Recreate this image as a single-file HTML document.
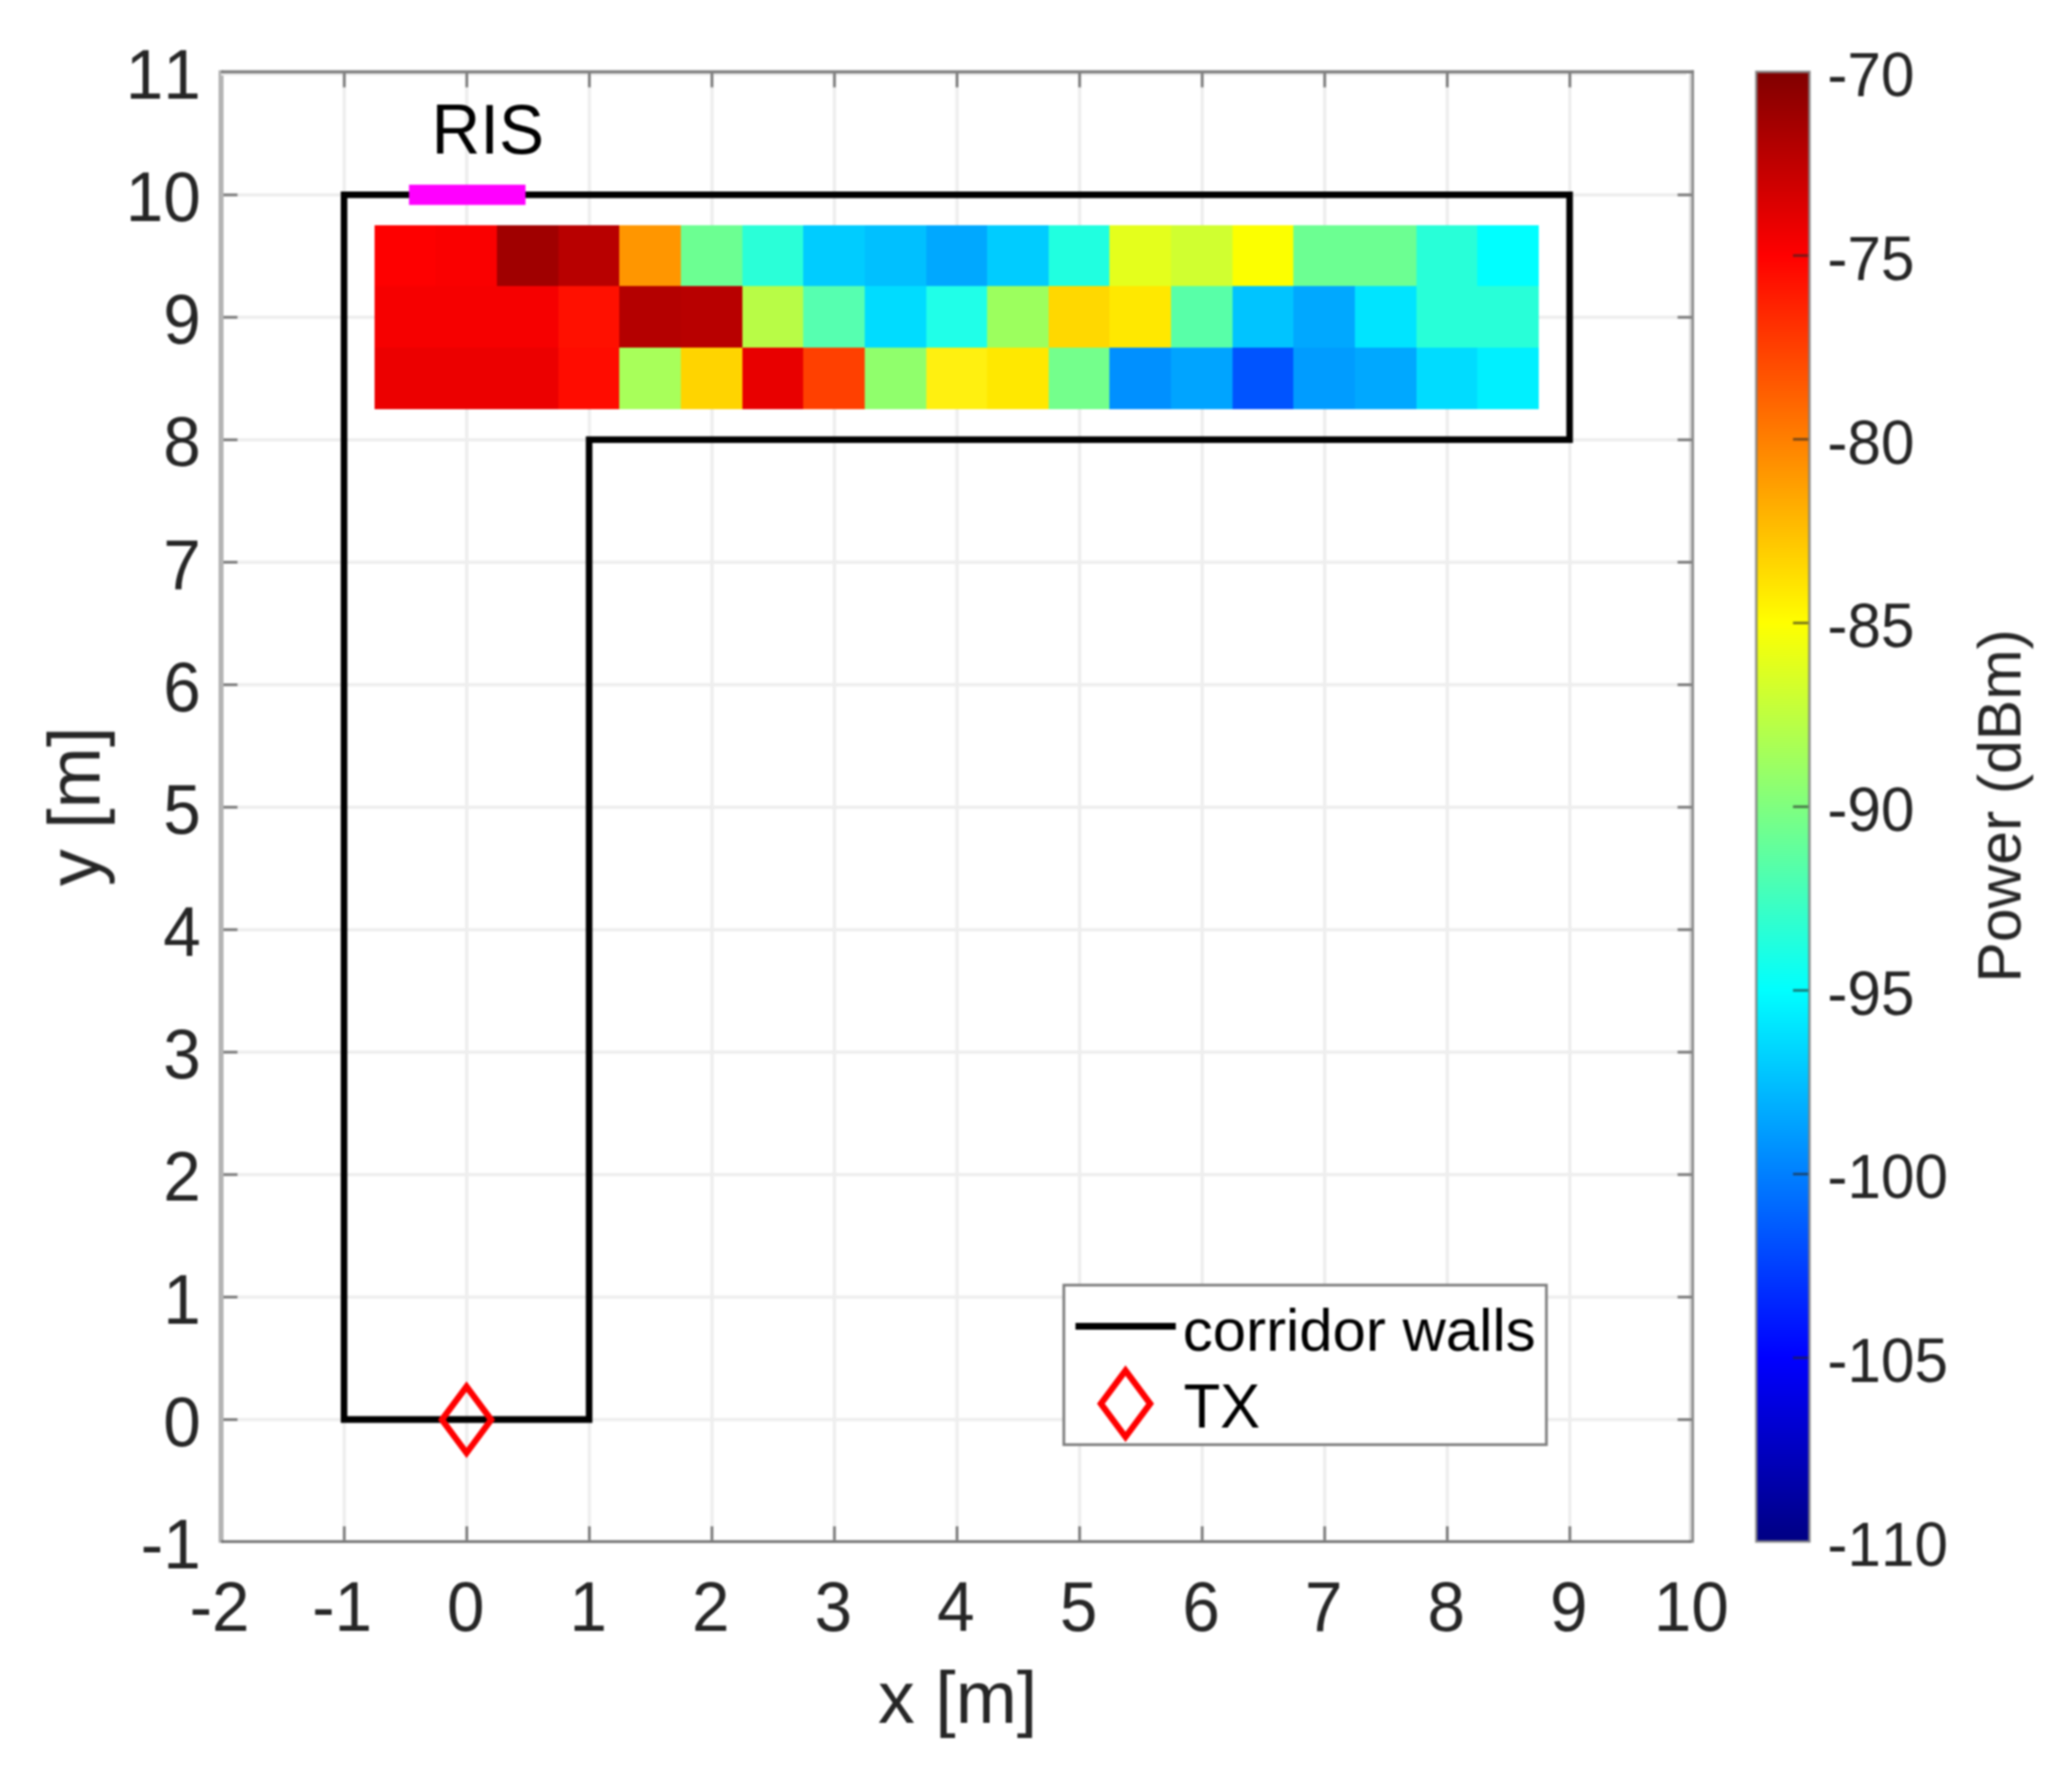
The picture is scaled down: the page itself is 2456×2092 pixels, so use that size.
<!DOCTYPE html>
<html lang="en"><head><meta charset="utf-8"><title>RIS corridor power map</title>
<style>html,body{margin:0;padding:0;background:#fff}body{width:2456px;height:2092px;overflow:hidden}svg{display:block}text{font-family:"Liberation Sans",sans-serif;font-kerning:none}</style>
</head><body>
<svg width="2456" height="2092" viewBox="0 0 2456 2092">
<defs><linearGradient id="jet" x1="0" y1="1" x2="0" y2="0">
<stop offset="0" stop-color="#000083"/>
<stop offset="0.125" stop-color="#0000ff"/>
<stop offset="0.375" stop-color="#00ffff"/>
<stop offset="0.625" stop-color="#ffff00"/>
<stop offset="0.875" stop-color="#ff0000"/>
<stop offset="1" stop-color="#800000"/>
</linearGradient></defs>
<rect width="2456" height="2092" fill="#fff"/>
<g style="filter:blur(0.8px)">
<g fill="#eeeeee">
<rect x="406.1" y="85.2" width="4" height="1741.9"/>
<rect x="551.3" y="85.2" width="4" height="1741.9"/>
<rect x="696.6" y="85.2" width="4" height="1741.9"/>
<rect x="841.9" y="85.2" width="4" height="1741.9"/>
<rect x="987.1" y="85.2" width="4" height="1741.9"/>
<rect x="1132.4" y="85.2" width="4" height="1741.9"/>
<rect x="1277.7" y="85.2" width="4" height="1741.9"/>
<rect x="1423.0" y="85.2" width="4" height="1741.9"/>
<rect x="1568.2" y="85.2" width="4" height="1741.9"/>
<rect x="1713.5" y="85.2" width="4" height="1741.9"/>
<rect x="1858.8" y="85.2" width="4" height="1741.9"/>
<rect x="262.2" y="1680.6" width="1743.2" height="4"/>
<rect x="262.2" y="1535.4" width="1743.2" height="4"/>
<rect x="262.2" y="1390.2" width="1743.2" height="4"/>
<rect x="262.2" y="1245.1" width="1743.2" height="4"/>
<rect x="262.2" y="1099.9" width="1743.2" height="4"/>
<rect x="262.2" y="954.8" width="1743.2" height="4"/>
<rect x="262.2" y="809.6" width="1743.2" height="4"/>
<rect x="262.2" y="664.4" width="1743.2" height="4"/>
<rect x="262.2" y="519.3" width="1743.2" height="4"/>
<rect x="262.2" y="374.1" width="1743.2" height="4"/>
<rect x="262.2" y="229.0" width="1743.2" height="4"/>
</g>
<g shape-rendering="crispEdges">
<rect x="443.79" y="266.65" width="73.14" height="73.08" fill="#fe0000"/>
<rect x="516.42" y="266.65" width="73.14" height="73.08" fill="#fa0000"/>
<rect x="589.06" y="266.65" width="73.14" height="73.08" fill="#a00000"/>
<rect x="661.69" y="266.65" width="73.14" height="73.08" fill="#b80000"/>
<rect x="734.33" y="266.65" width="73.14" height="73.08" fill="#ff9600"/>
<rect x="806.96" y="266.65" width="73.14" height="73.08" fill="#6cff92"/>
<rect x="879.60" y="266.65" width="73.14" height="73.08" fill="#2affd8"/>
<rect x="952.23" y="266.65" width="73.14" height="73.08" fill="#00ccff"/>
<rect x="1024.87" y="266.65" width="73.14" height="73.08" fill="#00c0ff"/>
<rect x="1097.50" y="266.65" width="73.14" height="73.08" fill="#00a8ff"/>
<rect x="1170.14" y="266.65" width="73.14" height="73.08" fill="#00ccff"/>
<rect x="1242.77" y="266.65" width="73.14" height="73.08" fill="#20ffe0"/>
<rect x="1315.41" y="266.65" width="73.14" height="73.08" fill="#e4ff1c"/>
<rect x="1388.04" y="266.65" width="73.14" height="73.08" fill="#d0ff30"/>
<rect x="1460.68" y="266.65" width="73.14" height="73.08" fill="#fcff00"/>
<rect x="1533.31" y="266.65" width="73.14" height="73.08" fill="#6cff92"/>
<rect x="1605.95" y="266.65" width="73.14" height="73.08" fill="#6cff92"/>
<rect x="1678.58" y="266.65" width="73.14" height="73.08" fill="#28ffd8"/>
<rect x="1751.22" y="266.65" width="73.14" height="73.08" fill="#00ffff"/>
<rect x="443.79" y="339.23" width="73.14" height="73.08" fill="#f60000"/>
<rect x="516.42" y="339.23" width="73.14" height="73.08" fill="#f60000"/>
<rect x="589.06" y="339.23" width="73.14" height="73.08" fill="#f60000"/>
<rect x="661.69" y="339.23" width="73.14" height="73.08" fill="#ff1000"/>
<rect x="734.33" y="339.23" width="73.14" height="73.08" fill="#b40000"/>
<rect x="806.96" y="339.23" width="73.14" height="73.08" fill="#b80000"/>
<rect x="879.60" y="339.23" width="73.14" height="73.08" fill="#b8fc46"/>
<rect x="952.23" y="339.23" width="73.14" height="73.08" fill="#56ffb0"/>
<rect x="1024.87" y="339.23" width="73.14" height="73.08" fill="#00dcff"/>
<rect x="1097.50" y="339.23" width="73.14" height="73.08" fill="#20ffe8"/>
<rect x="1170.14" y="339.23" width="73.14" height="73.08" fill="#9cff5e"/>
<rect x="1242.77" y="339.23" width="73.14" height="73.08" fill="#ffd800"/>
<rect x="1315.41" y="339.23" width="73.14" height="73.08" fill="#ffe800"/>
<rect x="1388.04" y="339.23" width="73.14" height="73.08" fill="#58ffa8"/>
<rect x="1460.68" y="339.23" width="73.14" height="73.08" fill="#00c4ff"/>
<rect x="1533.31" y="339.23" width="73.14" height="73.08" fill="#00a8ff"/>
<rect x="1605.95" y="339.23" width="73.14" height="73.08" fill="#00e4ff"/>
<rect x="1678.58" y="339.23" width="73.14" height="73.08" fill="#28ffd8"/>
<rect x="1751.22" y="339.23" width="73.14" height="73.08" fill="#28ffd8"/>
<rect x="443.79" y="411.81" width="73.14" height="73.08" fill="#ec0000"/>
<rect x="516.42" y="411.81" width="73.14" height="73.08" fill="#ec0000"/>
<rect x="589.06" y="411.81" width="73.14" height="73.08" fill="#ec0000"/>
<rect x="661.69" y="411.81" width="73.14" height="73.08" fill="#ff0c00"/>
<rect x="734.33" y="411.81" width="73.14" height="73.08" fill="#a8ff5a"/>
<rect x="806.96" y="411.81" width="73.14" height="73.08" fill="#ffd400"/>
<rect x="879.60" y="411.81" width="73.14" height="73.08" fill="#e80000"/>
<rect x="952.23" y="411.81" width="73.14" height="73.08" fill="#ff4000"/>
<rect x="1024.87" y="411.81" width="73.14" height="73.08" fill="#90ff6c"/>
<rect x="1097.50" y="411.81" width="73.14" height="73.08" fill="#fff010"/>
<rect x="1170.14" y="411.81" width="73.14" height="73.08" fill="#ffe800"/>
<rect x="1242.77" y="411.81" width="73.14" height="73.08" fill="#74ff8c"/>
<rect x="1315.41" y="411.81" width="73.14" height="73.08" fill="#0090ff"/>
<rect x="1388.04" y="411.81" width="73.14" height="73.08" fill="#00a4ff"/>
<rect x="1460.68" y="411.81" width="73.14" height="73.08" fill="#0054ff"/>
<rect x="1533.31" y="411.81" width="73.14" height="73.08" fill="#009cff"/>
<rect x="1605.95" y="411.81" width="73.14" height="73.08" fill="#00a8ff"/>
<rect x="1678.58" y="411.81" width="73.14" height="73.08" fill="#00dcff"/>
<rect x="1751.22" y="411.81" width="73.14" height="73.08" fill="#00f0ff"/>
</g>
<g>
<rect x="259" y="83.3" width="6" height="1745.3" fill="#b4b4b4"/>
<rect x="2002" y="83.3" width="3" height="1745.3" fill="#d8d8d8"/>
<rect x="2005" y="83.3" width="3" height="1745.3" fill="#8c8c8c"/>
<rect x="262" y="83.3" width="1746.0" height="3.7" fill="#808080"/>
<rect x="262" y="87.0" width="1737.0" height="2.5" fill="#ebebeb"/>
<rect x="262" y="1825.6" width="1743.0" height="3.2" fill="#707070"/>
</g>
<g fill="#7a7a7a">
<rect x="406.5" y="87.0" width="3.2" height="16.5"/>
<rect x="406.5" y="1809.1" width="3.2" height="16.5"/>
<rect x="551.7" y="87.0" width="3.2" height="16.5"/>
<rect x="551.7" y="1809.1" width="3.2" height="16.5"/>
<rect x="697.0" y="87.0" width="3.2" height="16.5"/>
<rect x="697.0" y="1809.1" width="3.2" height="16.5"/>
<rect x="842.3" y="87.0" width="3.2" height="16.5"/>
<rect x="842.3" y="1809.1" width="3.2" height="16.5"/>
<rect x="987.5" y="87.0" width="3.2" height="16.5"/>
<rect x="987.5" y="1809.1" width="3.2" height="16.5"/>
<rect x="1132.8" y="87.0" width="3.2" height="16.5"/>
<rect x="1132.8" y="1809.1" width="3.2" height="16.5"/>
<rect x="1278.1" y="87.0" width="3.2" height="16.5"/>
<rect x="1278.1" y="1809.1" width="3.2" height="16.5"/>
<rect x="1423.4" y="87.0" width="3.2" height="16.5"/>
<rect x="1423.4" y="1809.1" width="3.2" height="16.5"/>
<rect x="1568.6" y="87.0" width="3.2" height="16.5"/>
<rect x="1568.6" y="1809.1" width="3.2" height="16.5"/>
<rect x="1713.9" y="87.0" width="3.2" height="16.5"/>
<rect x="1713.9" y="1809.1" width="3.2" height="16.5"/>
<rect x="1859.2" y="87.0" width="3.2" height="16.5"/>
<rect x="1859.2" y="1809.1" width="3.2" height="16.5"/>
<rect x="265.0" y="1681.0" width="16.5" height="3.2"/>
<rect x="1988.5" y="1681.0" width="16.5" height="3.2"/>
<rect x="265.0" y="1535.8" width="16.5" height="3.2"/>
<rect x="1988.5" y="1535.8" width="16.5" height="3.2"/>
<rect x="265.0" y="1390.6" width="16.5" height="3.2"/>
<rect x="1988.5" y="1390.6" width="16.5" height="3.2"/>
<rect x="265.0" y="1245.5" width="16.5" height="3.2"/>
<rect x="1988.5" y="1245.5" width="16.5" height="3.2"/>
<rect x="265.0" y="1100.3" width="16.5" height="3.2"/>
<rect x="1988.5" y="1100.3" width="16.5" height="3.2"/>
<rect x="265.0" y="955.2" width="16.5" height="3.2"/>
<rect x="1988.5" y="955.2" width="16.5" height="3.2"/>
<rect x="265.0" y="810.0" width="16.5" height="3.2"/>
<rect x="1988.5" y="810.0" width="16.5" height="3.2"/>
<rect x="265.0" y="664.8" width="16.5" height="3.2"/>
<rect x="1988.5" y="664.8" width="16.5" height="3.2"/>
<rect x="265.0" y="519.7" width="16.5" height="3.2"/>
<rect x="1988.5" y="519.7" width="16.5" height="3.2"/>
<rect x="265.0" y="374.5" width="16.5" height="3.2"/>
<rect x="1988.5" y="374.5" width="16.5" height="3.2"/>
<rect x="265.0" y="229.4" width="16.5" height="3.2"/>
<rect x="1988.5" y="229.4" width="16.5" height="3.2"/>
</g>
<polygon points="407.8,1682.5 698.3,1682.5 698.3,521.2 1860.5,521.2 1860.5,230.9 407.8,230.9" fill="none" stroke="#000" stroke-width="7.8" stroke-linejoin="miter"/>
<rect x="484.8" y="218.9" width="138.1" height="24" fill="#ff00ff"/>
<text transform="translate(511.5,181.6) scale(1,1.04)" font-size="80" fill="#000">RIS</text>
<polygon points="553.0,1643.5 582.2,1682.8 553.0,1722.1 523.8,1682.8" fill="none" stroke="#ff0000" stroke-width="7.4" stroke-linejoin="miter" stroke-miterlimit="10"/>
<g font-size="80" fill="#262626">
<g text-anchor="middle">
<text transform="translate(260.2,1933.3) scale(1,1.04)">-2</text>
<text transform="translate(405.5,1933.3) scale(1,1.04)">-1</text>
<text transform="translate(552.0,1933.3) scale(1,1.04)">0</text>
<text transform="translate(697.3,1933.3) scale(1,1.04)">1</text>
<text transform="translate(842.6,1933.3) scale(1,1.04)">2</text>
<text transform="translate(987.8,1933.3) scale(1,1.04)">3</text>
<text transform="translate(1133.1,1933.3) scale(1,1.04)">4</text>
<text transform="translate(1278.4,1933.3) scale(1,1.04)">5</text>
<text transform="translate(1423.7,1933.3) scale(1,1.04)">6</text>
<text transform="translate(1568.9,1933.3) scale(1,1.04)">7</text>
<text transform="translate(1714.2,1933.3) scale(1,1.04)">8</text>
<text transform="translate(1859.5,1933.3) scale(1,1.04)">9</text>
<text transform="translate(2004.7,1933.3) scale(1,1.04)">10</text>
</g><g text-anchor="end">
<text transform="translate(238,1858.8) scale(1,1.04)">-1</text>
<text transform="translate(238,1713.7) scale(1,1.04)">0</text>
<text transform="translate(238,1568.5) scale(1,1.04)">1</text>
<text transform="translate(238,1423.3) scale(1,1.04)">2</text>
<text transform="translate(238,1278.2) scale(1,1.04)">3</text>
<text transform="translate(238,1133.0) scale(1,1.04)">4</text>
<text transform="translate(238,987.9) scale(1,1.04)">5</text>
<text transform="translate(238,842.7) scale(1,1.04)">6</text>
<text transform="translate(238,697.5) scale(1,1.04)">7</text>
<text transform="translate(238,552.4) scale(1,1.04)">8</text>
<text transform="translate(238,407.2) scale(1,1.04)">9</text>
<text transform="translate(238,262.1) scale(1,1.04)">10</text>
<text transform="translate(238,116.9) scale(1,1.04)">11</text>
</g></g>
<text x="1135.1" y="2041.5" font-size="87.2" fill="#262626" text-anchor="middle">x [m]</text>
<text transform="translate(118,955.7) rotate(-90)" font-size="87.2" fill="#262626" text-anchor="middle">y [m]</text>
<rect x="1261" y="1523.2" width="572" height="189.1" fill="#fff" stroke="#7d7d7d" stroke-width="3.2"/>
<rect x="1274.8" y="1568" width="118.9" height="8" fill="#000"/>
<polygon points="1334.1,1624.5 1363.3,1663.8 1334.1,1703.1 1304.9,1663.8" fill="none" stroke="#ff0000" stroke-width="7.4" stroke-linejoin="miter" stroke-miterlimit="10"/>
<g font-size="71" fill="#000"><text x="1402" y="1601">corridor walls</text><text transform="translate(1403,1691.6) scale(1,1.04)">TX</text></g>
<rect x="2081.8" y="85.2" width="63.0" height="1741.9" fill="url(#jet)"/>
<rect x="2081.8" y="85.2" width="63.0" height="1741.9" fill="none" stroke="#808080" stroke-opacity="0.85" stroke-width="3"/>
<g fill="#262626" fill-opacity="0.6">
<rect x="2125.3" y="301.3" width="18" height="3.2"/>
<rect x="2125.3" y="519.1" width="18" height="3.2"/>
<rect x="2125.3" y="736.8" width="18" height="3.2"/>
<rect x="2125.3" y="954.6" width="18" height="3.2"/>
<rect x="2125.3" y="1172.3" width="18" height="3.2"/>
<rect x="2125.3" y="1390.0" width="18" height="3.2"/>
<rect x="2125.3" y="1607.8" width="18" height="3.2"/>
</g>
<g font-size="71.5" fill="#262626">
<text transform="translate(2166,114.0) scale(1,1.04)">-70</text>
<text transform="translate(2166,331.7) scale(1,1.04)">-75</text>
<text transform="translate(2166,549.5) scale(1,1.04)">-80</text>
<text transform="translate(2166,767.2) scale(1,1.04)">-85</text>
<text transform="translate(2166,985.0) scale(1,1.04)">-90</text>
<text transform="translate(2166,1202.7) scale(1,1.04)">-95</text>
<text transform="translate(2166,1420.4) scale(1,1.04)">-100</text>
<text transform="translate(2166,1638.2) scale(1,1.04)">-105</text>
<text transform="translate(2166,1855.9) scale(1,1.04)">-110</text>
</g>
<text transform="translate(2395,955.2) rotate(-90)" font-size="71.8" fill="#262626" text-anchor="middle">Power (dBm)</text>
</g>
</svg></body></html>
